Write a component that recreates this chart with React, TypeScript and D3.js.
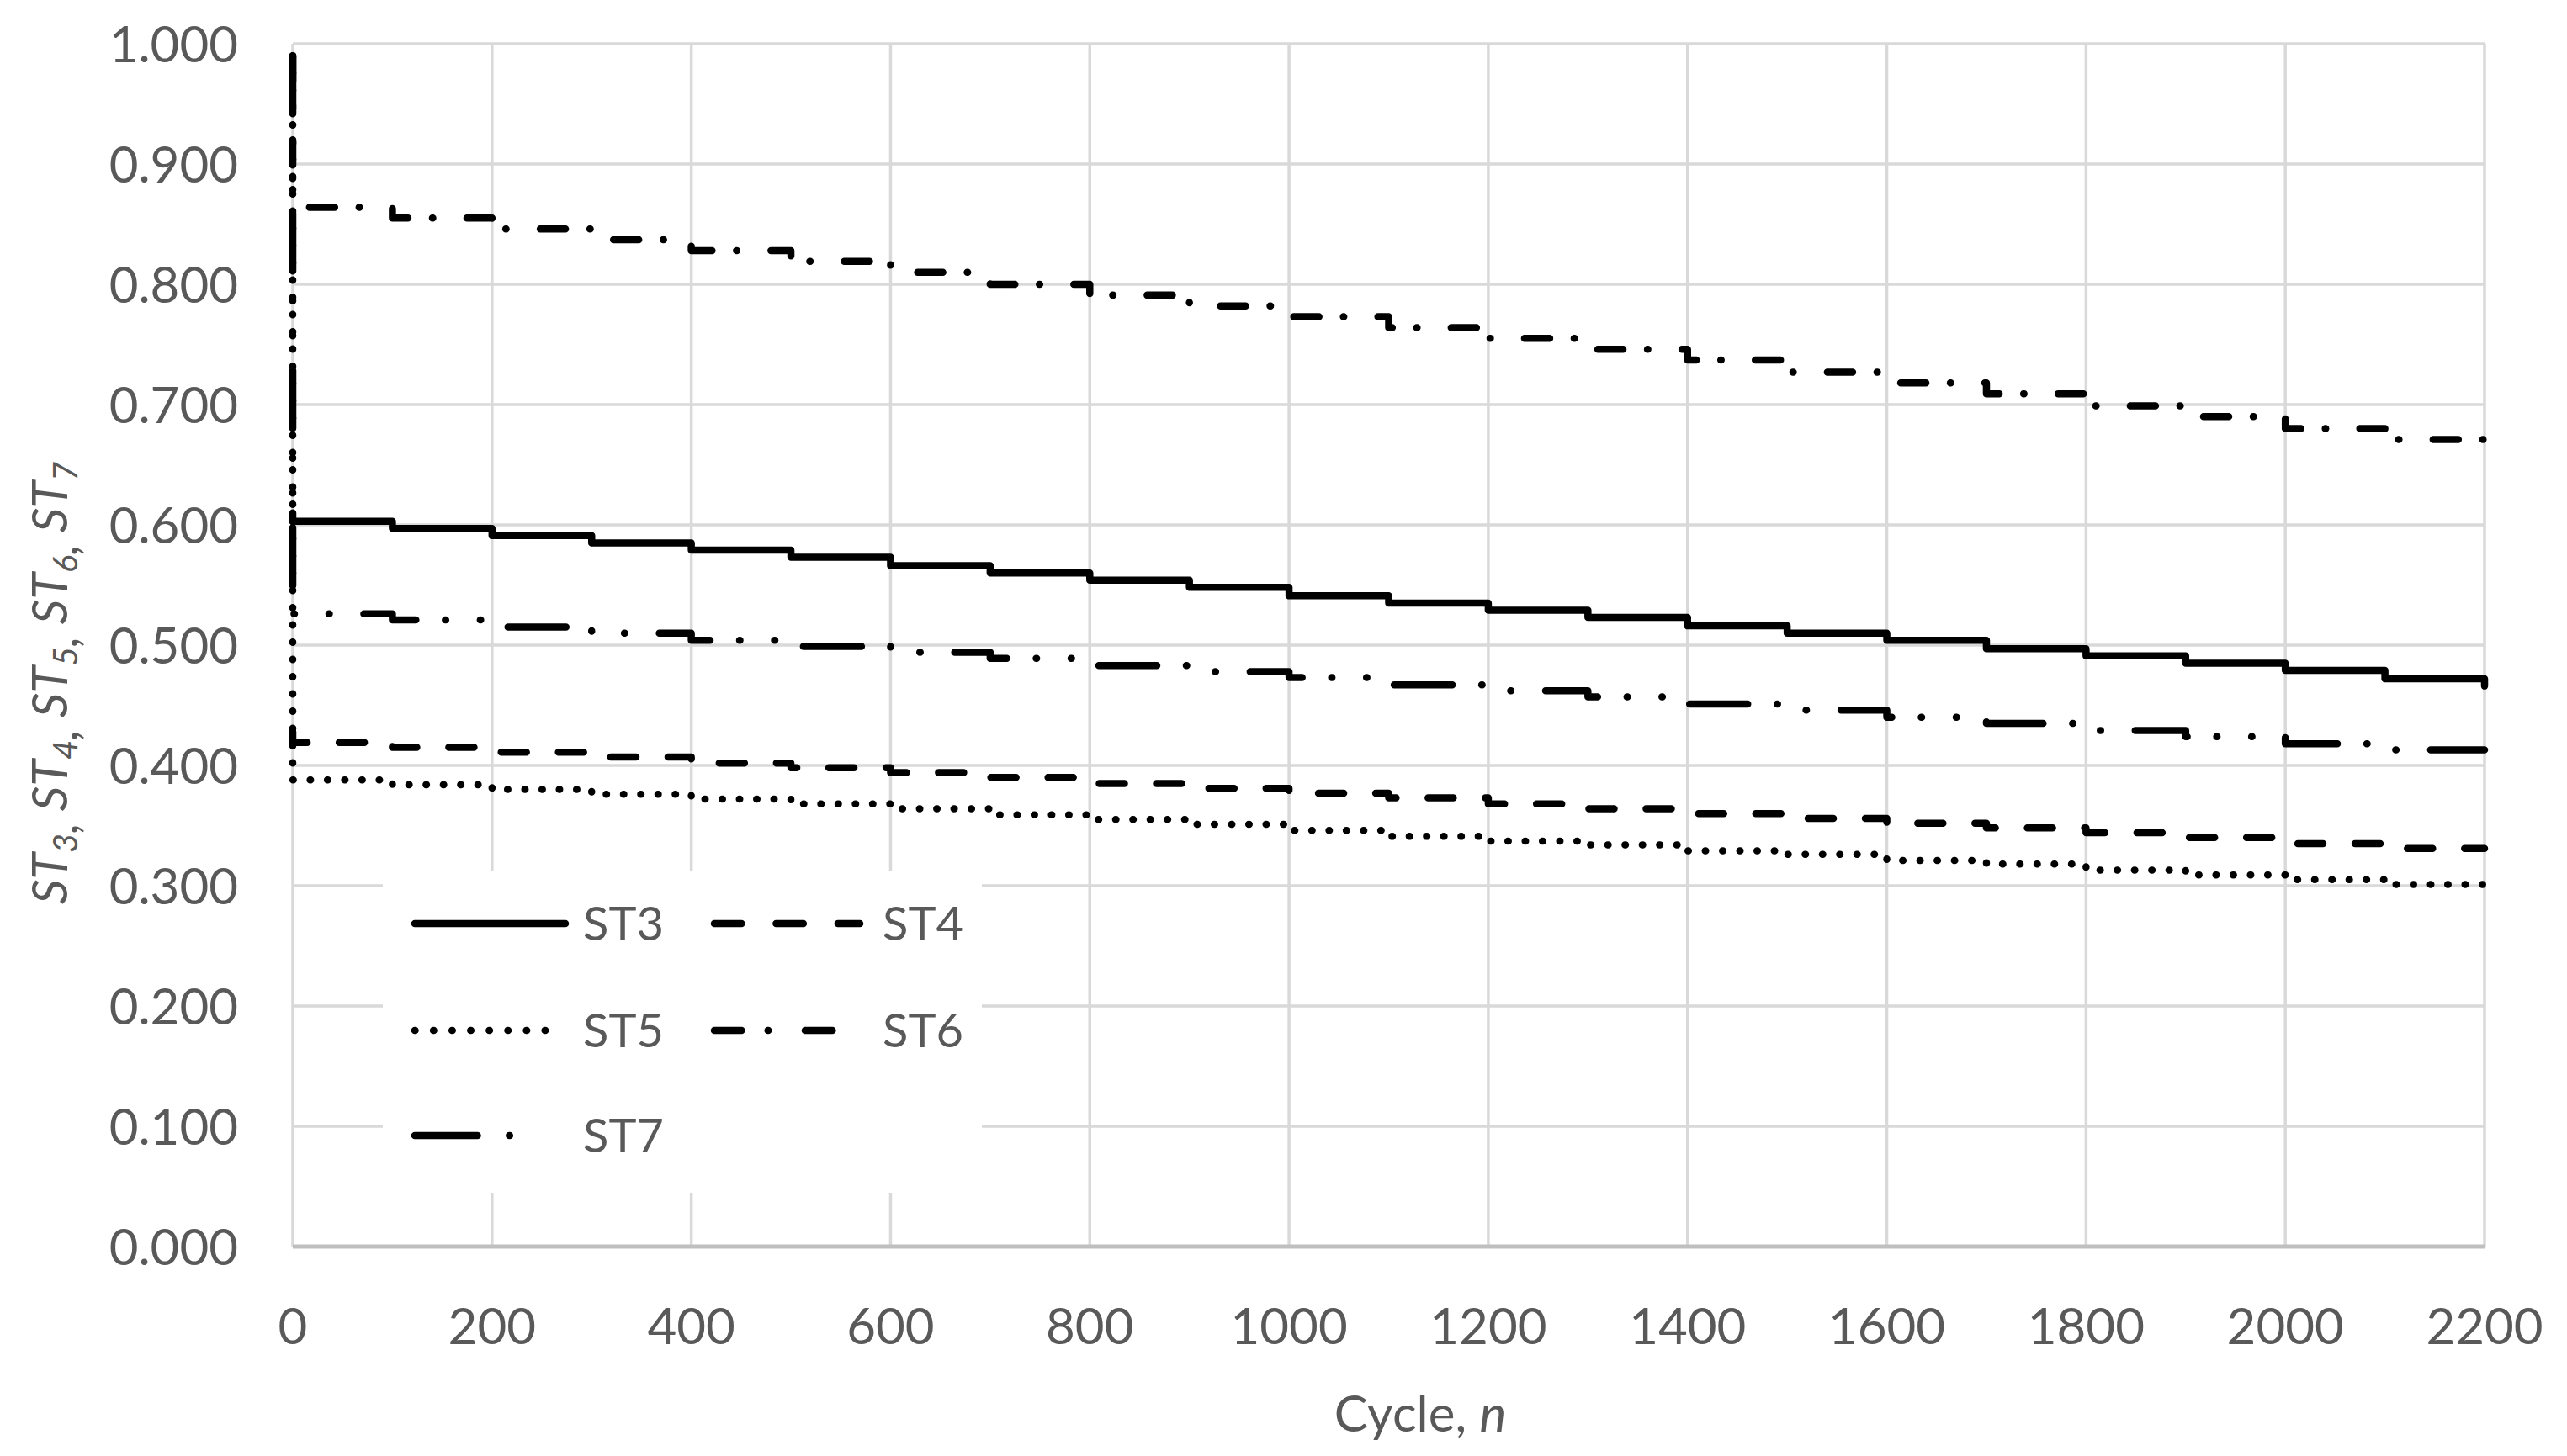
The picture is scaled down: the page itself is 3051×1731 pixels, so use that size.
import React from "react";
import * as d3 from "d3";

// step values, one per 100-cycle block (n = 0, 100, ..., 2100)
const cycles = [0, 100, 200, 300, 400, 500, 600, 700, 800, 900, 1000, 1100, 1200, 1300, 1400, 1500, 1600, 1700, 1800, 1900, 2000, 2100];

const st3 = [0.603, 0.597, 0.591, 0.585, 0.579, 0.573, 0.566, 0.560, 0.554, 0.548, 0.541, 0.535, 0.529, 0.523, 0.516, 0.510, 0.504, 0.497, 0.491, 0.485, 0.479, 0.472];
const st4 = [0.419, 0.415, 0.411, 0.407, 0.402, 0.398, 0.394, 0.390, 0.385, 0.381, 0.377, 0.373, 0.368, 0.364, 0.360, 0.356, 0.352, 0.348, 0.344, 0.340, 0.335, 0.331];
const st5 = [0.388, 0.384, 0.380, 0.376, 0.372, 0.368, 0.364, 0.359, 0.355, 0.351, 0.346, 0.341, 0.337, 0.334, 0.329, 0.326, 0.321, 0.318, 0.313, 0.309, 0.305, 0.301];
const st6 = [0.864, 0.855, 0.846, 0.837, 0.828, 0.819, 0.810, 0.800, 0.791, 0.782, 0.773, 0.764, 0.755, 0.746, 0.737, 0.727, 0.718, 0.709, 0.699, 0.690, 0.680, 0.671];
const st7 = [0.526, 0.521, 0.515, 0.510, 0.504, 0.499, 0.494, 0.489, 0.483, 0.478, 0.473, 0.467, 0.462, 0.457, 0.451, 0.446, 0.440, 0.435, 0.429, 0.424, 0.418, 0.413];

// value at n = 0 before the first drop, and value at n = 2200
const startValues = [0.61, 0.428, 0.99, 0.99, 0.99];
const endValues = [0.466, 0.331, 0.301, 0.671, 0.413];

const seriesNames = ["ST3", "ST4", "ST5", "ST6", "ST7"];
const seriesValues = [st3, st4, st5, st6, st7];

const xTicks = [0, 200, 400, 600, 800, 1000, 1200, 1400, 1600, 1800, 2000, 2200];
const yTicks = [0, 0.1, 0.2, 0.3, 0.4, 0.5, 0.6, 0.7, 0.8, 0.9, 1.0];

const dashes: Record<string, number[] | null> = {
    ST3: null,
    ST4: [30, 38],
    ST5: [0.5, 20],
    ST6: [30, 29, 0.5, 40.5],
    ST7: [69, 35, 0.5, 41, 0.5, 41],
};

const W = 3051;
const H = 1731;
const FONT = "Lato, 'Open Sans', sans-serif";
const TEXT = "#595959";
const GRID = "#d9d9d9";

const App: React.FC = () => {
    const x = d3.scaleLinear().domain([0, 2200]).range([348, 2953]);
    const y = d3.scaleLinear().domain([0, 1]).range([1482, 52]);

    const line = d3
        .line<{ n: number; v: number }>()
        .x((d) => x(d.n))
        .y((d) => y(d.v))
        .curve(d3.curveStepAfter);

    const series = seriesNames.map((name, i) => {
        const pts = [{ n: 0, v: startValues[i] }];
        cycles.forEach((c, j) => pts.push({ n: c, v: seriesValues[i][j] }));
        pts.push({ n: 2200, v: endValues[i] });
        return { name, pts };
    });

    const sw = 8.5;
    const legendScale = 1.08;
    // legend layout: [x start, x end, row y, text x]
    const legendPos: Record<string, [number, number, number, number]> = {
        ST3: [493, 672, 1098, 693],
        ST4: [849, 1022, 1098, 1049],
        ST5: [493, 656, 1225, 693],
        ST6: [849, 993, 1225, 1049],
        ST7: [493, 641, 1350, 693],
    };

    const yTitleParts = ["3", "4", "5", "6", "7"];

    return (
        <div style={{ position: "absolute", left: 0, top: 0 }}>
            <svg width={W} height={H} style={{ display: "block", background: "#fff" }}>
                {/* grid */}
                {xTicks.map((t) => (
                    <line key={"gx" + t} x1={x(t)} x2={x(t)} y1={y(1)} y2={y(0)} stroke={GRID} strokeWidth={3.5} />
                ))}
                {yTicks.map((t) => (
                    <line key={"gy" + t} x1={x(0)} x2={x(2200)} y1={y(t)} y2={y(t)} stroke={GRID} strokeWidth={3.5} />
                ))}
                <line x1={x(0)} x2={x(2200)} y1={y(0)} y2={y(0)} stroke="#bfbfbf" strokeWidth={5} />

                {/* tick labels */}
                {yTicks.map((t) => (
                    <text key={"ty" + t} x={283} y={y(t)} dy="0.36em" textAnchor="end" fontFamily={FONT} fontSize={60} fill={TEXT}>
                        {d3.format(".3f")(t)}
                    </text>
                ))}
                {xTicks.map((t) => (
                    <text key={"tx" + t} x={x(t)} y={1598} textAnchor="middle" fontFamily={FONT} fontSize={60} fill={TEXT}>
                        {t}
                    </text>
                ))}

                {/* axis titles */}
                <text x={1688} y={1702} textAnchor="middle" fontFamily={FONT} fontSize={60} fill={TEXT}>
                    Cycle, <tspan fontStyle="italic">n</tspan>
                </text>
                <text
                    transform="translate(80,812) rotate(-90)"
                    textAnchor="middle"
                    fontFamily={FONT}
                    fontSize={58}
                    fontStyle="italic"
                    fill={TEXT}
                >
                    {yTitleParts.map((p, i) => (
                        <React.Fragment key={p}>
                            <tspan dy={i === 0 ? 0 : -12}>ST</tspan>
                            <tspan fontSize={40} dy={12}>
                                {p}
                            </tspan>
                            {i < yTitleParts.length - 1 && <tspan>, </tspan>}
                        </React.Fragment>
                    ))}
                </text>

                {/* series */}
                {series.map((s) => (
                    <path
                        key={s.name}
                        d={line(s.pts) || ""}
                        fill="none"
                        stroke="#000"
                        strokeWidth={sw}
                        strokeLinecap="round"
                        strokeLinejoin="round"
                        strokeDasharray={dashes[s.name] ? dashes[s.name]!.join(" ") : undefined}
                    />
                ))}

                {/* legend */}
                <rect x={455} y={1035} width={712} height={383} fill="#fff" />
                {seriesNames.map((name) => {
                    const [x1, x2, ly, tx] = legendPos[name];
                    const da = dashes[name];
                    return (
                        <g key={"lg" + name}>
                            <line
                                x1={x1}
                                x2={x2}
                                y1={ly}
                                y2={ly}
                                stroke="#000"
                                strokeWidth={sw}
                                strokeLinecap="round"
                                strokeDasharray={da ? da.map((v) => (v < 1 ? v : v * legendScale)).join(" ") : undefined}
                            />
                            <text x={tx} y={ly} dy="0.36em" fontFamily={FONT} fontSize={56} fill={TEXT}>
                                {name}
                            </text>
                        </g>
                    );
                })}
            </svg>
        </div>
    );
};

export default App;
